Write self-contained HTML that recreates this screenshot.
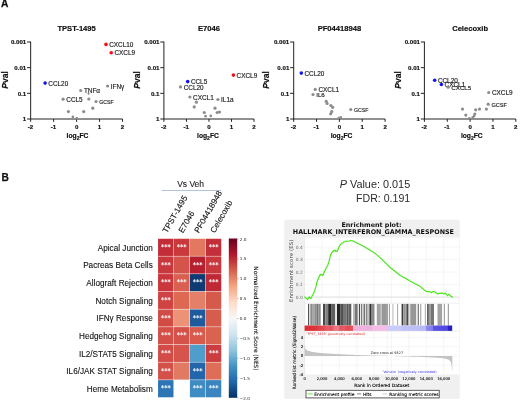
<!DOCTYPE html>
<html><head><meta charset="utf-8"><title>Figure</title>
<style>
html,body{margin:0;padding:0;background:#fff;}
body{width:520px;height:402px;overflow:hidden;}
svg{display:block;}
text{font-family:"Liberation Sans",sans-serif;}
.b{font-weight:bold;}
.s{stroke:#111;stroke-width:0.18px;}
.t{stroke:#000;stroke-width:0.1px;}
.dv{font-family:"DejaVu Sans","Liberation Sans",sans-serif;}
</style></head><body>
<svg width="520" height="402" viewBox="0 0 520 402">
<rect width="520" height="402" fill="#fff"/>
<text x="1" y="7" class="b" font-size="10.2" fill="#111" stroke="#111" stroke-width="0.25">A</text>
<text x="1.4" y="181.2" class="b" font-size="10.2" fill="#111" stroke="#111" stroke-width="0.25">B</text>
<path d="M30.65 41.60V119.00H122.53" fill="none" stroke="#222" stroke-width="1"/>
<path d="M27.05 42.00H30.65" stroke="#222" stroke-width="1"/>
<text x="26.25" y="44.25" text-anchor="end" class="b s" font-size="6.15" fill="#111">0.001</text>
<path d="M27.05 67.67H30.65" stroke="#222" stroke-width="1"/>
<text x="26.25" y="69.92" text-anchor="end" class="b s" font-size="6.15" fill="#111">0.01</text>
<path d="M27.05 93.33H30.65" stroke="#222" stroke-width="1"/>
<text x="26.25" y="95.58" text-anchor="end" class="b s" font-size="6.15" fill="#111">0.1</text>
<path d="M27.05 119.00H30.65" stroke="#222" stroke-width="1"/>
<text x="26.25" y="121.25" text-anchor="end" class="b s" font-size="6.15" fill="#111">1</text>
<path d="M30.65 119.00V121.80" stroke="#222" stroke-width="1"/>
<text x="30.45" y="129.20" text-anchor="middle" class="b s" font-size="6.15" fill="#111">-2</text>
<path d="M53.62 119.00V121.80" stroke="#222" stroke-width="1"/>
<text x="53.42" y="129.20" text-anchor="middle" class="b s" font-size="6.15" fill="#111">-1</text>
<path d="M76.59 119.00V121.80" stroke="#222" stroke-width="1"/>
<text x="76.59" y="129.20" text-anchor="middle" class="b s" font-size="6.15" fill="#111">0</text>
<path d="M99.56 119.00V121.80" stroke="#222" stroke-width="1"/>
<text x="99.56" y="129.20" text-anchor="middle" class="b s" font-size="6.15" fill="#111">1</text>
<path d="M122.53 119.00V121.80" stroke="#222" stroke-width="1"/>
<text x="122.53" y="129.20" text-anchor="middle" class="b s" font-size="6.15" fill="#111">2</text>
<text x="77.49" y="138.10" text-anchor="middle" class="b s" font-size="6.7" fill="#111">log<tspan font-size="5" dy="1.5">2</tspan><tspan dy="-1.5">FC</tspan></text>
<text transform="translate(7.65 79.90) rotate(-90)" text-anchor="middle" class="b s" font-size="8.5" fill="#111"><tspan font-style="italic">P</tspan>val</text>
<text x="76.59" y="31.2" text-anchor="middle" class="b s" font-size="7.6" fill="#111">TPST-1495</text>
<circle cx="106.0" cy="44.4" r="1.8" fill="#fa0a12"/>
<text x="109.2" y="47.0" font-size="6.4" fill="#222" stroke="#222" stroke-width="0.16">CXCL10</text>
<circle cx="111.2" cy="52.7" r="1.8" fill="#fa0a12"/>
<text x="114.4" y="55.3" font-size="6.4" fill="#222" stroke="#222" stroke-width="0.16">CXCL9</text>
<circle cx="45.1" cy="83.1" r="1.8" fill="#1414f0"/>
<text x="48.3" y="85.7" font-size="6.4" fill="#222" stroke="#222" stroke-width="0.16">CCL20</text>
<circle cx="107.6" cy="86.0" r="1.6" fill="#8c8c8c"/>
<text x="110.8" y="88.6" font-size="6.4" fill="#222" stroke="#222" stroke-width="0.16">IFNγ</text>
<circle cx="80.7" cy="90.5" r="1.6" fill="#8c8c8c"/>
<text x="83.9" y="93.1" font-size="6.4" fill="#222" stroke="#222" stroke-width="0.16">TNFα</text>
<circle cx="88.6" cy="93.7" r="1.1" fill="#8c8c8c"/>
<circle cx="63.1" cy="99.2" r="1.6" fill="#8c8c8c"/>
<text x="66.3" y="101.8" font-size="6.4" fill="#222" stroke="#222" stroke-width="0.16">CCL5</text>
<circle cx="88.8" cy="99.0" r="1.6" fill="#8c8c8c"/>
<circle cx="96.0" cy="101.5" r="1.6" fill="#8c8c8c"/>
<text x="99.2" y="103.7" font-size="5.2" fill="#222" stroke="#222" stroke-width="0.16">GCSF</text>
<circle cx="92.8" cy="108.2" r="1.6" fill="#8c8c8c"/>
<circle cx="68.4" cy="111.6" r="1.6" fill="#8c8c8c"/>
<circle cx="83.7" cy="111.6" r="1.6" fill="#8c8c8c"/>
<circle cx="72.9" cy="116.9" r="1.35" fill="#8c8c8c"/>
<circle cx="76.9" cy="118.3" r="1.35" fill="#8c8c8c"/>
<path d="M163.90 41.60V119.00H254.02" fill="none" stroke="#222" stroke-width="1"/>
<path d="M160.30 42.00H163.90" stroke="#222" stroke-width="1"/>
<text x="159.50" y="44.25" text-anchor="end" class="b s" font-size="6.15" fill="#111">0.001</text>
<path d="M160.30 67.67H163.90" stroke="#222" stroke-width="1"/>
<text x="159.50" y="69.92" text-anchor="end" class="b s" font-size="6.15" fill="#111">0.01</text>
<path d="M160.30 93.33H163.90" stroke="#222" stroke-width="1"/>
<text x="159.50" y="95.58" text-anchor="end" class="b s" font-size="6.15" fill="#111">0.1</text>
<path d="M160.30 119.00H163.90" stroke="#222" stroke-width="1"/>
<text x="159.50" y="121.25" text-anchor="end" class="b s" font-size="6.15" fill="#111">1</text>
<path d="M163.90 119.00V121.80" stroke="#222" stroke-width="1"/>
<text x="163.70" y="129.20" text-anchor="middle" class="b s" font-size="6.15" fill="#111">-2</text>
<path d="M186.43 119.00V121.80" stroke="#222" stroke-width="1"/>
<text x="186.23" y="129.20" text-anchor="middle" class="b s" font-size="6.15" fill="#111">-1</text>
<path d="M208.96 119.00V121.80" stroke="#222" stroke-width="1"/>
<text x="208.96" y="129.20" text-anchor="middle" class="b s" font-size="6.15" fill="#111">0</text>
<path d="M231.49 119.00V121.80" stroke="#222" stroke-width="1"/>
<text x="231.49" y="129.20" text-anchor="middle" class="b s" font-size="6.15" fill="#111">1</text>
<path d="M254.02 119.00V121.80" stroke="#222" stroke-width="1"/>
<text x="254.02" y="129.20" text-anchor="middle" class="b s" font-size="6.15" fill="#111">2</text>
<text x="207.96" y="138.10" text-anchor="middle" class="b s" font-size="6.7" fill="#111">log<tspan font-size="5" dy="1.5">2</tspan><tspan dy="-1.5">FC</tspan></text>
<text transform="translate(139.50 79.90) rotate(-90)" text-anchor="middle" class="b s" font-size="8.5" fill="#111"><tspan font-style="italic">P</tspan>val</text>
<text x="208.96" y="31.2" text-anchor="middle" class="b s" font-size="7.6" fill="#111">E7046</text>
<circle cx="233.4" cy="75.1" r="1.8" fill="#fa0a12"/>
<text x="236.6" y="77.7" font-size="6.4" fill="#222" stroke="#222" stroke-width="0.16">CXCL9</text>
<circle cx="187.7" cy="81.6" r="1.8" fill="#1414f0"/>
<text x="190.9" y="84.2" font-size="6.4" fill="#222" stroke="#222" stroke-width="0.16">CCL5</text>
<circle cx="180.5" cy="86.9" r="1.6" fill="#8c8c8c"/>
<text x="183.7" y="89.5" font-size="6.4" fill="#222" stroke="#222" stroke-width="0.16">CCL20</text>
<circle cx="189.9" cy="97.0" r="1.6" fill="#8c8c8c"/>
<text x="193.1" y="99.6" font-size="6.4" fill="#222" stroke="#222" stroke-width="0.16">CXCL1</text>
<circle cx="217.9" cy="99.5" r="1.6" fill="#8c8c8c"/>
<text x="221.1" y="102.1" font-size="6.4" fill="#222" stroke="#222" stroke-width="0.16">IL1a</text>
<circle cx="196.4" cy="102.2" r="1.6" fill="#8c8c8c"/>
<circle cx="194.2" cy="106.9" r="1.6" fill="#8c8c8c"/>
<circle cx="215.0" cy="108.2" r="1.6" fill="#8c8c8c"/>
<circle cx="204.3" cy="112.5" r="1.6" fill="#8c8c8c"/>
<circle cx="217.2" cy="112.5" r="1.6" fill="#8c8c8c"/>
<circle cx="219.5" cy="112.0" r="1.6" fill="#8c8c8c"/>
<circle cx="205.6" cy="116.2" r="1.35" fill="#8c8c8c"/>
<circle cx="210.8" cy="115.9" r="1.35" fill="#8c8c8c"/>
<path d="M293.70 41.60V119.00H385.10" fill="none" stroke="#222" stroke-width="1"/>
<path d="M290.10 42.00H293.70" stroke="#222" stroke-width="1"/>
<text x="289.30" y="44.25" text-anchor="end" class="b s" font-size="6.15" fill="#111">0.001</text>
<path d="M290.10 67.67H293.70" stroke="#222" stroke-width="1"/>
<text x="289.30" y="69.92" text-anchor="end" class="b s" font-size="6.15" fill="#111">0.01</text>
<path d="M290.10 93.33H293.70" stroke="#222" stroke-width="1"/>
<text x="289.30" y="95.58" text-anchor="end" class="b s" font-size="6.15" fill="#111">0.1</text>
<path d="M290.10 119.00H293.70" stroke="#222" stroke-width="1"/>
<text x="289.30" y="121.25" text-anchor="end" class="b s" font-size="6.15" fill="#111">1</text>
<path d="M293.70 119.00V121.80" stroke="#222" stroke-width="1"/>
<text x="293.50" y="129.20" text-anchor="middle" class="b s" font-size="6.15" fill="#111">-2</text>
<path d="M316.55 119.00V121.80" stroke="#222" stroke-width="1"/>
<text x="316.35" y="129.20" text-anchor="middle" class="b s" font-size="6.15" fill="#111">-1</text>
<path d="M339.40 119.00V121.80" stroke="#222" stroke-width="1"/>
<text x="339.40" y="129.20" text-anchor="middle" class="b s" font-size="6.15" fill="#111">0</text>
<path d="M362.25 119.00V121.80" stroke="#222" stroke-width="1"/>
<text x="362.25" y="129.20" text-anchor="middle" class="b s" font-size="6.15" fill="#111">1</text>
<path d="M385.10 119.00V121.80" stroke="#222" stroke-width="1"/>
<text x="385.10" y="129.20" text-anchor="middle" class="b s" font-size="6.15" fill="#111">2</text>
<text x="341.50" y="138.10" text-anchor="middle" class="b s" font-size="6.7" fill="#111">log<tspan font-size="5" dy="1.5">2</tspan><tspan dy="-1.5">FC</tspan></text>
<text transform="translate(269.10 79.90) rotate(-90)" text-anchor="middle" class="b s" font-size="8.5" fill="#111"><tspan font-style="italic">P</tspan>val</text>
<text x="339.40" y="31.2" text-anchor="middle" class="b s" font-size="7.6" fill="#111">PF04418948</text>
<circle cx="301.3" cy="73.1" r="1.8" fill="#1414f0"/>
<text x="304.5" y="75.7" font-size="6.4" fill="#222" stroke="#222" stroke-width="0.16">CCL20</text>
<circle cx="315.2" cy="89.4" r="1.6" fill="#8c8c8c"/>
<text x="318.4" y="92.0" font-size="6.4" fill="#222" stroke="#222" stroke-width="0.16">CXCL1</text>
<circle cx="313.0" cy="94.5" r="1.6" fill="#8c8c8c"/>
<text x="316.2" y="97.0" font-size="6.2" fill="#222" stroke="#222" stroke-width="0.16">IL6</text>
<circle cx="326.2" cy="101.3" r="1.6" fill="#8c8c8c"/>
<circle cx="327.1" cy="103.5" r="1.6" fill="#8c8c8c"/>
<circle cx="330.9" cy="105.5" r="1.6" fill="#8c8c8c"/>
<circle cx="332.7" cy="107.3" r="1.6" fill="#8c8c8c"/>
<circle cx="331.8" cy="111.6" r="1.6" fill="#8c8c8c"/>
<circle cx="330.7" cy="113.8" r="1.6" fill="#8c8c8c"/>
<circle cx="350.8" cy="109.5" r="1.6" fill="#8c8c8c"/>
<text x="354.0" y="111.7" font-size="5.2" fill="#222" stroke="#222" stroke-width="0.16">GCSF</text>
<circle cx="338.7" cy="118.1" r="1.35" fill="#8c8c8c"/>
<circle cx="340.7" cy="117.4" r="1.35" fill="#8c8c8c"/>
<path d="M424.40 41.60V119.00H515.80" fill="none" stroke="#222" stroke-width="1"/>
<path d="M420.80 42.00H424.40" stroke="#222" stroke-width="1"/>
<text x="420.00" y="44.25" text-anchor="end" class="b s" font-size="6.15" fill="#111">0.001</text>
<path d="M420.80 67.67H424.40" stroke="#222" stroke-width="1"/>
<text x="420.00" y="69.92" text-anchor="end" class="b s" font-size="6.15" fill="#111">0.01</text>
<path d="M420.80 93.33H424.40" stroke="#222" stroke-width="1"/>
<text x="420.00" y="95.58" text-anchor="end" class="b s" font-size="6.15" fill="#111">0.1</text>
<path d="M420.80 119.00H424.40" stroke="#222" stroke-width="1"/>
<text x="420.00" y="121.25" text-anchor="end" class="b s" font-size="6.15" fill="#111">1</text>
<path d="M424.40 119.00V121.80" stroke="#222" stroke-width="1"/>
<text x="424.20" y="129.20" text-anchor="middle" class="b s" font-size="6.15" fill="#111">-2</text>
<path d="M447.25 119.00V121.80" stroke="#222" stroke-width="1"/>
<text x="447.05" y="129.20" text-anchor="middle" class="b s" font-size="6.15" fill="#111">-1</text>
<path d="M470.10 119.00V121.80" stroke="#222" stroke-width="1"/>
<text x="470.10" y="129.20" text-anchor="middle" class="b s" font-size="6.15" fill="#111">0</text>
<path d="M492.95 119.00V121.80" stroke="#222" stroke-width="1"/>
<text x="492.95" y="129.20" text-anchor="middle" class="b s" font-size="6.15" fill="#111">1</text>
<path d="M515.80 119.00V121.80" stroke="#222" stroke-width="1"/>
<text x="515.80" y="129.20" text-anchor="middle" class="b s" font-size="6.15" fill="#111">2</text>
<text x="471.80" y="138.10" text-anchor="middle" class="b s" font-size="6.7" fill="#111">log<tspan font-size="5" dy="1.5">2</tspan><tspan dy="-1.5">FC</tspan></text>
<text transform="translate(400.70 79.90) rotate(-90)" text-anchor="middle" class="b s" font-size="8.5" fill="#111"><tspan font-style="italic">P</tspan>val</text>
<text x="470.10" y="31.2" text-anchor="middle" class="b s" font-size="7.6" fill="#111">Celecoxib</text>
<circle cx="434.7" cy="80.2" r="1.8" fill="#1414f0"/>
<text x="437.9" y="82.8" font-size="6.4" fill="#222" stroke="#222" stroke-width="0.16">CCL20</text>
<circle cx="441.4" cy="84.5" r="1.8" fill="#1414f0"/>
<text x="444.6" y="87.1" font-size="6.4" fill="#222" stroke="#222" stroke-width="0.16">CXCL1</text>
<circle cx="448.1" cy="87.2" r="1.6" fill="#8c8c8c"/>
<text x="451.3" y="89.7" font-size="6.2" fill="#222" stroke="#222" stroke-width="0.16">CXCL5</text>
<circle cx="488.7" cy="92.5" r="1.6" fill="#8c8c8c"/>
<text x="491.9" y="95.1" font-size="6.4" fill="#222" stroke="#222" stroke-width="0.16">CXCL9</text>
<circle cx="488.2" cy="104.2" r="1.6" fill="#8c8c8c"/>
<text x="491.4" y="106.5" font-size="5.6" fill="#222" stroke="#222" stroke-width="0.16">GCSF</text>
<circle cx="462.5" cy="109.1" r="1.6" fill="#8c8c8c"/>
<circle cx="475.7" cy="109.8" r="1.6" fill="#8c8c8c"/>
<circle cx="479.5" cy="109.1" r="1.6" fill="#8c8c8c"/>
<circle cx="486.4" cy="109.1" r="1.6" fill="#8c8c8c"/>
<circle cx="465.8" cy="115.1" r="1.6" fill="#8c8c8c"/>
<circle cx="474.8" cy="114.0" r="1.6" fill="#8c8c8c"/>
<circle cx="474.1" cy="116.0" r="1.35" fill="#8c8c8c"/>
<circle cx="472.8" cy="117.4" r="1.35" fill="#8c8c8c"/>
<circle cx="469.4" cy="118.3" r="1.35" fill="#8c8c8c"/>
<rect x="158.05" y="238.75" width="15.43" height="17.17" fill="#c22d38"/><text x="165.77" y="249.03" text-anchor="middle" font-size="6.5" fill="#fff" stroke="#fff" stroke-width="0.15" class="dv">***</text><rect x="173.98" y="238.75" width="15.43" height="17.17" fill="#c9383a"/><text x="181.70" y="249.03" text-anchor="middle" font-size="6.5" fill="#fff" stroke="#fff" stroke-width="0.15" class="dv">***</text><rect x="189.91" y="238.75" width="15.43" height="17.17" fill="#e27860"/><rect x="205.84" y="238.75" width="15.43" height="17.17" fill="#c22f38"/><text x="213.56" y="249.03" text-anchor="middle" font-size="6.5" fill="#fff" stroke="#fff" stroke-width="0.15" class="dv">***</text><text x="152.8" y="250.53" text-anchor="end" font-size="8.2" fill="#111" stroke="#111" stroke-width="0.1">Apical Junction</text>
<rect x="158.05" y="256.42" width="15.43" height="17.17" fill="#c9383c"/><text x="165.77" y="266.70" text-anchor="middle" font-size="6.5" fill="#fff" stroke="#fff" stroke-width="0.15" class="dv">***</text><rect x="173.98" y="256.42" width="15.43" height="17.17" fill="#d4534a"/><rect x="189.91" y="256.42" width="15.43" height="17.17" fill="#b51f30"/><text x="197.63" y="266.70" text-anchor="middle" font-size="6.5" fill="#fff" stroke="#fff" stroke-width="0.15" class="dv">***</text><rect x="205.84" y="256.42" width="15.43" height="17.17" fill="#c8383c"/><text x="213.56" y="266.70" text-anchor="middle" font-size="6.5" fill="#fff" stroke="#fff" stroke-width="0.15" class="dv">***</text><text x="152.8" y="268.20" text-anchor="end" font-size="8.2" fill="#111" stroke="#111" stroke-width="0.1">Pacreas Beta Cells</text>
<rect x="158.05" y="274.09" width="15.43" height="17.17" fill="#c9363b"/><text x="165.77" y="284.38" text-anchor="middle" font-size="6.5" fill="#fff" stroke="#fff" stroke-width="0.15" class="dv">***</text><rect x="173.98" y="274.09" width="15.43" height="17.17" fill="#d95f50"/><text x="181.70" y="284.38" text-anchor="middle" font-size="6.5" fill="#fff" stroke="#fff" stroke-width="0.15" class="dv">***</text><rect x="189.91" y="274.09" width="15.43" height="17.17" fill="#0f3a72"/><text x="197.63" y="284.38" text-anchor="middle" font-size="6.5" fill="#fff" stroke="#fff" stroke-width="0.15" class="dv">***</text><rect x="205.84" y="274.09" width="15.43" height="17.17" fill="#bf2936"/><text x="213.56" y="284.38" text-anchor="middle" font-size="6.5" fill="#fff" stroke="#fff" stroke-width="0.15" class="dv">***</text><text x="152.8" y="285.88" text-anchor="end" font-size="8.2" fill="#111" stroke="#111" stroke-width="0.1">Allograft Rejection</text>
<rect x="158.05" y="291.76" width="15.43" height="17.17" fill="#cf4442"/><text x="165.77" y="302.04" text-anchor="middle" font-size="6.5" fill="#fff" stroke="#fff" stroke-width="0.15" class="dv">***</text><rect x="173.98" y="291.76" width="15.43" height="17.17" fill="#de6953"/><rect x="189.91" y="291.76" width="15.43" height="17.17" fill="#e4806a"/><rect x="205.84" y="291.76" width="15.43" height="17.17" fill="#d55a4c"/><text x="152.8" y="303.54" text-anchor="end" font-size="8.2" fill="#111" stroke="#111" stroke-width="0.1">Notch Signaling</text>
<rect x="158.05" y="309.43" width="15.43" height="17.17" fill="#d24c46"/><text x="165.77" y="319.71" text-anchor="middle" font-size="6.5" fill="#fff" stroke="#fff" stroke-width="0.15" class="dv">***</text><rect x="173.98" y="309.43" width="15.43" height="17.17" fill="#ec9377"/><rect x="189.91" y="309.43" width="15.43" height="17.17" fill="#1f5a9c"/><text x="197.63" y="319.71" text-anchor="middle" font-size="6.5" fill="#fff" stroke="#fff" stroke-width="0.15" class="dv">***</text><rect x="205.84" y="309.43" width="15.43" height="17.17" fill="#d65c4d"/><text x="152.8" y="321.21" text-anchor="end" font-size="8.2" fill="#111" stroke="#111" stroke-width="0.1">IFNγ Response</text>
<rect x="158.05" y="327.10" width="15.43" height="17.17" fill="#d34f47"/><text x="165.77" y="337.38" text-anchor="middle" font-size="6.5" fill="#fff" stroke="#fff" stroke-width="0.15" class="dv">***</text><rect x="173.98" y="327.10" width="15.43" height="17.17" fill="#d4524a"/><text x="181.70" y="337.38" text-anchor="middle" font-size="6.5" fill="#fff" stroke="#fff" stroke-width="0.15" class="dv">***</text><rect x="189.91" y="327.10" width="15.43" height="17.17" fill="#d85a4d"/><text x="197.63" y="337.38" text-anchor="middle" font-size="6.5" fill="#fff" stroke="#fff" stroke-width="0.15" class="dv">***</text><rect x="205.84" y="327.10" width="15.43" height="17.17" fill="#d9634f"/><text x="152.8" y="338.88" text-anchor="end" font-size="8.2" fill="#111" stroke="#111" stroke-width="0.1">Hedgehog Signaling</text>
<rect x="158.05" y="344.77" width="15.43" height="17.17" fill="#d24b46"/><text x="165.77" y="355.05" text-anchor="middle" font-size="6.5" fill="#fff" stroke="#fff" stroke-width="0.15" class="dv">***</text><rect x="173.98" y="344.77" width="15.43" height="17.17" fill="#d5544b"/><rect x="189.91" y="344.77" width="15.43" height="17.17" fill="#4f9dcb"/><rect x="205.84" y="344.77" width="15.43" height="17.17" fill="#cb3d3f"/><text x="213.56" y="355.05" text-anchor="middle" font-size="6.5" fill="#fff" stroke="#fff" stroke-width="0.15" class="dv">***</text><text x="152.8" y="356.55" text-anchor="end" font-size="8.2" fill="#111" stroke="#111" stroke-width="0.1">IL2/STAT5 Signaling</text>
<rect x="158.05" y="362.44" width="15.43" height="17.17" fill="#d4514a"/><text x="165.77" y="372.72" text-anchor="middle" font-size="6.5" fill="#fff" stroke="#fff" stroke-width="0.15" class="dv">***</text><rect x="173.98" y="362.44" width="15.43" height="17.17" fill="#e07a62"/><rect x="189.91" y="362.44" width="15.43" height="17.17" fill="#2365ab"/><text x="197.63" y="372.72" text-anchor="middle" font-size="6.5" fill="#fff" stroke="#fff" stroke-width="0.15" class="dv">***</text><rect x="205.84" y="362.44" width="15.43" height="17.17" fill="#de6e57"/><text x="152.8" y="374.22" text-anchor="end" font-size="8.2" fill="#111" stroke="#111" stroke-width="0.1">IL6/JAK STAT Signaling</text>
<rect x="158.05" y="380.11" width="15.43" height="17.17" fill="#2e75b6"/><text x="165.77" y="390.39" text-anchor="middle" font-size="6.5" fill="#fff" stroke="#fff" stroke-width="0.15" class="dv">***</text><rect x="189.91" y="380.11" width="15.43" height="17.17" fill="#3f8cc3"/><text x="197.63" y="390.39" text-anchor="middle" font-size="6.5" fill="#fff" stroke="#fff" stroke-width="0.15" class="dv">***</text><rect x="205.84" y="380.11" width="15.43" height="17.17" fill="#3a85bf"/><text x="213.56" y="390.39" text-anchor="middle" font-size="6.5" fill="#fff" stroke="#fff" stroke-width="0.15" class="dv">***</text><text x="152.8" y="391.89" text-anchor="end" font-size="8.2" fill="#111" stroke="#111" stroke-width="0.1">Heme Metabolism</text>
<text transform="translate(166.97 233.5) rotate(-60)" font-size="8.2" fill="#111" stroke="#111" stroke-width="0.12">TPST-1495</text>
<text transform="translate(182.90 233.5) rotate(-60)" font-size="8.2" fill="#111" stroke="#111" stroke-width="0.12">E7046</text>
<text transform="translate(198.83 233.5) rotate(-60)" font-size="8.2" fill="#111" stroke="#111" stroke-width="0.12">PF04418948</text>
<text transform="translate(214.75 233.5) rotate(-60)" font-size="8.2" fill="#111" stroke="#111" stroke-width="0.12">Celecoxib</text>
<text x="190.6" y="187.3" text-anchor="middle" font-size="8.5" fill="#222" stroke="#222" stroke-width="0.1">Vs Veh</text>
<path d="M161.7 190.5H221.1" stroke="#8fa9cf" stroke-width="0.7"/>
<defs><linearGradient id="cb" x1="0" y1="1" x2="0" y2="0"><stop offset="0.0" stop-color="#053061"/><stop offset="0.1" stop-color="#2166ac"/><stop offset="0.2" stop-color="#4393c3"/><stop offset="0.3" stop-color="#92c5de"/><stop offset="0.4" stop-color="#d1e5f0"/><stop offset="0.5" stop-color="#f7f7f7"/><stop offset="0.6" stop-color="#fddbc7"/><stop offset="0.7" stop-color="#f4a582"/><stop offset="0.8" stop-color="#d6604d"/><stop offset="0.9" stop-color="#b2182b"/><stop offset="1.0" stop-color="#67001f"/></linearGradient></defs>
<rect x="228.8" y="238.5" width="8.4" height="159.3" fill="url(#cb)"/>
<path d="M237.2 239.00H238.6" stroke="#444" stroke-width="0.4"/><text x="239.8" y="240.60" font-size="4.2" fill="#222" class="dv">2.0</text>
<path d="M237.2 258.87H238.6" stroke="#444" stroke-width="0.4"/><text x="239.8" y="260.47" font-size="4.2" fill="#222" class="dv">1.5</text>
<path d="M237.2 278.74H238.6" stroke="#444" stroke-width="0.4"/><text x="239.8" y="280.34" font-size="4.2" fill="#222" class="dv">1.0</text>
<path d="M237.2 298.61H238.6" stroke="#444" stroke-width="0.4"/><text x="239.8" y="300.21" font-size="4.2" fill="#222" class="dv">0.5</text>
<path d="M237.2 318.48H238.6" stroke="#444" stroke-width="0.4"/><text x="239.8" y="320.08" font-size="4.2" fill="#222" class="dv">0.0</text>
<path d="M237.2 338.35H238.6" stroke="#444" stroke-width="0.4"/><text x="239.8" y="339.95" font-size="4.2" fill="#222" class="dv">−0.5</text>
<path d="M237.2 358.22H238.6" stroke="#444" stroke-width="0.4"/><text x="239.8" y="359.82" font-size="4.2" fill="#222" class="dv">−1.0</text>
<path d="M237.2 378.09H238.6" stroke="#444" stroke-width="0.4"/><text x="239.8" y="379.69" font-size="4.2" fill="#222" class="dv">−1.5</text>
<path d="M237.2 397.96H238.6" stroke="#444" stroke-width="0.4"/><text x="239.8" y="399.56" font-size="4.2" fill="#222" class="dv">−2.0</text>
<text transform="translate(254.3 318.4) rotate(90)" text-anchor="middle" font-size="5.8" fill="#111" class="dv t">Normalized Enrichment Score (NES)</text>
<text x="410.2" y="187.6" text-anchor="end" font-size="10.4" fill="#2b2b2b" textLength="70.5" lengthAdjust="spacingAndGlyphs"><tspan font-style="italic">P</tspan> Value: 0.015</text>
<text x="410.2" y="202.4" text-anchor="end" font-size="10.4" fill="#2b2b2b" textLength="54.2" lengthAdjust="spacingAndGlyphs">FDR: 0.191</text>
<rect x="284.3" y="219.7" width="175.4" height="179.1" fill="#f0f0f0"/>
<text x="371.5" y="226.6" text-anchor="middle" font-size="6.4" class="dv b" fill="#111">Enrichment plot:</text>
<text x="373.4" y="233.9" text-anchor="middle" font-size="6.4" class="dv b" fill="#111">HALLMARK_INTERFERON_GAMMA_RESPONSE</text>
<rect x="304.6" y="237.6" width="154.7" height="137.4" fill="#fff"/>
<text x="302.7" y="298.70" text-anchor="end" font-size="4.4" fill="#6a6a6a" class="dv">0.0</text><text x="302.7" y="286.16" text-anchor="end" font-size="4.4" fill="#6a6a6a" class="dv">0.1</text><text x="302.7" y="273.62" text-anchor="end" font-size="4.4" fill="#6a6a6a" class="dv">0.2</text><text x="302.7" y="261.08" text-anchor="end" font-size="4.4" fill="#6a6a6a" class="dv">0.3</text><text x="302.7" y="248.54" text-anchor="end" font-size="4.4" fill="#6a6a6a" class="dv">0.4</text><text x="303.3" y="338.70" text-anchor="end" font-size="3.9" fill="#000" class="dv t">4</text><text x="303.3" y="348.00" text-anchor="end" font-size="3.9" fill="#000" class="dv t">2</text><text x="303.3" y="357.30" text-anchor="end" font-size="3.9" fill="#000" class="dv t">0</text><text x="303.3" y="366.60" text-anchor="end" font-size="3.9" fill="#000" class="dv t">-2</text><text x="303.3" y="375.90" text-anchor="end" font-size="3.9" fill="#000" class="dv t">-4</text><path d="M321.98 237.6V303M321.98 331V375M339.36 237.6V303M339.36 331V375M356.74 237.6V303M356.74 331V375M374.12 237.6V303M374.12 331V375M391.50 237.6V303M391.50 331V375M408.88 237.6V303M408.88 331V375M426.26 237.6V303M426.26 331V375M443.64 237.6V303M443.64 331V375M304.6 297.10H459.3M304.6 284.56H459.3M304.6 272.02H459.3M304.6 259.48H459.3M304.6 246.94H459.3M304.6 337.30H459.3M304.6 346.60H459.3M304.6 355.90H459.3M304.6 365.20H459.3M304.6 374.50H459.3" stroke="#e8e8e8" stroke-width="0.4" fill="none"/>
<path d="M304.6 297.1H459.3" stroke="#d2d2d2" stroke-width="0.6" fill="none"/>
<path d="M304.6 303.2H459.3M304.6 331.1H459.3M304.6 237.6V375" stroke="#dcdcdc" stroke-width="0.5" fill="none"/>
<path d="M304.74 296.92 L306.09 298.27 L307.61 299.62 L308.46 297.93 L309.30 296.92 L310.15 297.93 L310.99 298.61 L311.84 296.58 L312.68 294.89 L313.53 293.53 L314.38 291.51 L315.22 289.14 L316.07 286.43 L316.91 282.20 L317.76 280.00 L318.60 277.97 L319.45 275.95 L320.30 274.25 L320.97 275.10 L321.65 274.25 L322.83 275.44 L323.68 273.41 L324.52 271.55 L325.37 269.86 L326.22 267.83 L327.06 266.47 L327.91 264.78 L328.58 262.75 L329.09 261.06 L329.77 258.02 L330.44 255.14 L331.29 253.45 L332.14 252.27 L333.15 251.25 L334.33 250.07 L335.01 251.08 L335.86 250.91 L336.70 251.42 L337.55 250.91 L338.05 249.22 L338.56 247.87 L339.24 246.35 L339.75 245.50 L340.93 244.15 L342.28 242.79 L343.30 242.46 L344.31 241.78 L345.67 241.61 L346.68 241.10 L347.86 241.27 L349.05 241.10 L350.06 240.77 L350.74 240.43 L351.92 240.93 L353.28 241.10 L355.48 242.29 L357.51 243.30 L360.04 244.49 L362.58 245.84 L365.12 247.36 L367.65 248.88 L370.19 250.24 L372.73 251.76 L375.26 253.62 L377.80 255.65 L380.00 257.68 L385.07 262.41 L390.15 267.49 L395.22 271.55 L400.30 275.44 L405.37 278.31 L410.44 281.36 L415.52 283.89 L419.75 286.09 L423.13 288.97 L425.33 290.83 L426.51 291.51 L428.20 291.67 L429.89 291.84 L431.59 292.69 L432.77 291.67 L433.78 291.17 L434.80 292.18 L435.81 292.86 L437.84 294.04 L439.20 293.37 L440.04 293.20 L441.23 293.37 L442.24 292.86 L443.09 293.53 L443.93 294.04 L444.78 293.37 L445.62 293.20 L446.64 294.55 L447.65 295.73 L448.33 294.55 L448.84 294.04 L449.68 295.23 L450.70 296.07 L452.39 297.09" fill="none" stroke="#46e616" stroke-width="1.15" stroke-linejoin="round" stroke-linecap="round"/>
<rect x="308.00" y="303.9" width="1.20" height="21.6" fill="rgb(82,82,82)"/><rect x="309.20" y="303.9" width="1.10" height="21.6" fill="rgb(220,220,220)"/><rect x="310.30" y="303.9" width="2.40" height="21.6" fill="rgb(140,140,140)"/><rect x="312.70" y="303.9" width="1.70" height="21.6" fill="rgb(163,163,163)"/><rect x="314.40" y="303.9" width="2.30" height="21.6" fill="rgb(140,140,140)"/><rect x="316.70" y="303.9" width="1.70" height="21.6" fill="rgb(117,117,117)"/><rect x="318.40" y="303.9" width="2.30" height="21.6" fill="rgb(140,140,140)"/><rect x="323.00" y="303.9" width="2.30" height="21.6" fill="rgb(71,71,71)"/><rect x="325.30" y="303.9" width="2.90" height="21.6" fill="rgb(128,128,128)"/><rect x="328.20" y="303.9" width="2.90" height="21.6" fill="rgb(36,36,36)"/><rect x="331.10" y="303.9" width="4.10" height="21.6" fill="rgb(94,94,94)"/><rect x="336.90" y="303.9" width="3.40" height="21.6" fill="rgb(36,36,36)"/><rect x="340.30" y="303.9" width="3.50" height="21.6" fill="rgb(82,82,82)"/><rect x="343.80" y="303.9" width="2.90" height="21.6" fill="rgb(117,117,117)"/><rect x="346.70" y="303.9" width="1.70" height="21.6" fill="rgb(82,82,82)"/><rect x="348.40" y="303.9" width="2.90" height="21.6" fill="rgb(94,94,94)"/><rect x="353.00" y="303.9" width="1.80" height="21.6" fill="rgb(186,186,186)"/><rect x="354.80" y="303.9" width="2.90" height="21.6" fill="rgb(117,117,117)"/><rect x="358.90" y="303.9" width="1.10" height="21.6" fill="rgb(71,71,71)"/><rect x="360.00" y="303.9" width="1.20" height="21.6" fill="rgb(236,236,236)"/><rect x="361.20" y="303.9" width="1.20" height="21.6" fill="rgb(94,94,94)"/><rect x="362.40" y="303.9" width="1.10" height="21.6" fill="rgb(232,232,232)"/><rect x="363.50" y="303.9" width="1.70" height="21.6" fill="rgb(117,117,117)"/><rect x="365.20" y="303.9" width="1.20" height="21.6" fill="rgb(220,220,220)"/><rect x="366.40" y="303.9" width="1.10" height="21.6" fill="rgb(71,71,71)"/><rect x="367.50" y="303.9" width="1.20" height="21.6" fill="rgb(209,209,209)"/><rect x="368.70" y="303.9" width="1.10" height="21.6" fill="rgb(128,128,128)"/><rect x="369.80" y="303.9" width="1.80" height="21.6" fill="rgb(48,48,48)"/><rect x="371.60" y="303.9" width="2.90" height="21.6" fill="rgb(140,140,140)"/><rect x="376.80" y="303.9" width="4.00" height="21.6" fill="rgb(163,163,163)"/><rect x="380.80" y="303.9" width="1.20" height="21.6" fill="rgb(197,197,197)"/><rect x="382.00" y="303.9" width="4.60" height="21.6" fill="rgb(151,151,151)"/><rect x="386.60" y="303.9" width="1.10" height="21.6" fill="rgb(117,117,117)"/><rect x="388.90" y="303.9" width="1.10" height="21.6" fill="rgb(163,163,163)"/><rect x="392.30" y="303.9" width="1.20" height="21.6" fill="rgb(197,197,197)"/><rect x="397.00" y="303.9" width="1.10" height="21.6" fill="rgb(174,174,174)"/><rect x="401.60" y="303.9" width="1.70" height="21.6" fill="rgb(59,59,59)"/><rect x="403.30" y="303.9" width="2.30" height="21.6" fill="rgb(151,151,151)"/><rect x="405.60" y="303.9" width="1.30" height="21.6" fill="rgb(128,128,128)"/><rect x="406.90" y="303.9" width="1.70" height="21.6" fill="rgb(71,71,71)"/><rect x="408.60" y="303.9" width="1.70" height="21.6" fill="rgb(220,220,220)"/><rect x="410.30" y="303.9" width="5.80" height="21.6" fill="rgb(151,151,151)"/><rect x="416.10" y="303.9" width="1.70" height="21.6" fill="rgb(232,232,232)"/><rect x="417.80" y="303.9" width="1.20" height="21.6" fill="rgb(128,128,128)"/><rect x="420.20" y="303.9" width="1.10" height="21.6" fill="rgb(163,163,163)"/><rect x="424.80" y="303.9" width="1.10" height="21.6" fill="rgb(174,174,174)"/><rect x="427.10" y="303.9" width="1.70" height="21.6" fill="rgb(82,82,82)"/><rect x="428.80" y="303.9" width="1.70" height="21.6" fill="rgb(151,151,151)"/><rect x="430.50" y="303.9" width="3.50" height="21.6" fill="rgb(117,117,117)"/><rect x="437.50" y="303.9" width="4.60" height="21.6" fill="rgb(163,163,163)"/><rect x="443.80" y="303.9" width="1.20" height="21.6" fill="rgb(163,163,163)"/><rect x="447.80" y="303.9" width="1.00" height="21.6" fill="rgb(140,140,140)"/>
<defs><linearGradient id="rk" gradientUnits="userSpaceOnUse" x1="304.6" y1="0" x2="452.2" y2="0"><stop offset="0.0000" stop-color="#db2c33"/><stop offset="0.0705" stop-color="#dd333a"/><stop offset="0.1043" stop-color="#e0434a"/><stop offset="0.1314" stop-color="#e24c54"/><stop offset="0.1585" stop-color="#e65e66"/><stop offset="0.1789" stop-color="#e35058"/><stop offset="0.2060" stop-color="#ea7782"/><stop offset="0.2297" stop-color="#ea7782"/><stop offset="0.2398" stop-color="#e3525a"/><stop offset="0.2669" stop-color="#e65c66"/><stop offset="0.2873" stop-color="#e14a52"/><stop offset="0.3252" stop-color="#e4545e"/><stop offset="0.3293" stop-color="#efb0dc"/><stop offset="0.4566" stop-color="#f0b2de"/><stop offset="0.4634" stop-color="#f4bee8"/><stop offset="0.5569" stop-color="#f4bee8"/><stop offset="0.5596" stop-color="#cdcdfb"/><stop offset="0.6531" stop-color="#cacafa"/><stop offset="0.6599" stop-color="#c2c2f8"/><stop offset="0.7683" stop-color="#bdbdf7"/><stop offset="0.8218" stop-color="#b9b7f5"/><stop offset="0.8252" stop-color="#8b89ef"/><stop offset="0.8699" stop-color="#7f7cec"/><stop offset="0.8726" stop-color="#5d53e3"/><stop offset="0.9682" stop-color="#5046de"/><stop offset="0.9709" stop-color="#2c20c8"/><stop offset="1.0000" stop-color="#2a1ec6"/></linearGradient></defs><rect x="304.6" y="325.5" width="147.6" height="5.4" fill="url(#rk)"/>
<path d="M304.60 355.90 L304.60 343.81 L304.95 347.06 L305.47 348.63 L305.64 349.16 L306.34 349.65 L307.21 350.26 L308.08 350.88 L308.95 351.11 L309.81 351.34 L310.68 351.58 L311.55 351.81 L312.42 351.94 L313.29 352.07 L314.16 352.21 L315.03 352.34 L315.90 352.47 L316.42 352.55 L316.77 352.58 L317.64 352.66 L318.50 352.74 L319.37 352.82 L320.24 352.89 L321.11 352.97 L321.98 353.05 L322.85 353.13 L323.72 353.20 L324.59 353.26 L325.46 353.32 L326.33 353.38 L327.19 353.43 L328.06 353.49 L328.93 353.55 L329.80 353.61 L330.67 353.66 L331.54 353.72 L332.41 353.78 L332.84 353.81 L333.28 353.83 L334.15 353.88 L335.02 353.93 L335.88 353.98 L336.75 354.03 L337.62 354.08 L338.49 354.13 L339.36 354.17 L340.23 354.22 L341.10 354.27 L341.97 354.31 L342.84 354.35 L343.71 354.39 L344.57 354.43 L345.44 354.47 L346.31 354.51 L347.18 354.55 L348.05 354.59 L348.92 354.63 L349.27 354.64 L349.79 354.67 L350.66 354.71 L351.53 354.74 L352.40 354.78 L353.26 354.82 L354.13 354.86 L355.00 354.89 L355.87 354.93 L356.74 354.97 L357.61 355.00 L358.48 355.04 L359.35 355.07 L360.22 355.10 L361.09 355.13 L361.95 355.17 L362.82 355.20 L363.69 355.23 L364.56 355.26 L365.43 355.30 L366.30 355.32 L367.17 355.35 L368.04 355.38 L368.91 355.40 L369.78 355.43 L370.64 355.46 L371.51 355.49 L372.38 355.51 L373.25 355.54 L374.12 355.57 L374.99 355.59 L375.86 355.62 L376.73 355.64 L377.60 355.66 L378.47 355.68 L379.33 355.71 L380.20 355.73 L381.07 355.75 L381.94 355.77 L382.81 355.79 L383.68 355.81 L384.55 355.83 L385.42 355.85 L386.29 355.87 L387.16 355.89 L387.39 355.90 L388.02 355.92 L388.89 355.94 L389.76 355.97 L390.63 355.99 L391.50 356.02 L392.37 356.04 L393.24 356.07 L394.11 356.10 L394.98 356.12 L395.85 356.15 L396.71 356.17 L397.58 356.20 L398.45 356.22 L399.32 356.25 L400.19 356.27 L401.06 356.30 L401.93 356.32 L402.80 356.35 L403.67 356.38 L404.54 356.40 L405.40 356.43 L406.27 356.46 L407.14 356.48 L407.84 356.50 L408.01 356.51 L408.88 356.54 L409.75 356.57 L410.62 356.60 L411.49 356.63 L412.36 356.66 L413.23 356.68 L414.09 356.71 L414.96 356.74 L415.83 356.77 L416.70 356.80 L417.57 356.83 L418.44 356.87 L419.31 356.90 L420.18 356.94 L421.05 356.97 L421.92 357.01 L422.78 357.05 L423.65 357.08 L424.26 357.11 L424.52 357.12 L425.39 357.16 L426.26 357.20 L427.13 357.24 L428.00 357.28 L428.87 357.32 L429.74 357.36 L430.61 357.41 L431.47 357.45 L432.34 357.49 L433.21 357.53 L434.08 357.59 L434.95 357.65 L435.82 357.71 L436.69 357.77 L437.56 357.82 L438.43 357.88 L439.30 357.94 L440.16 358.00 L440.69 358.04 L441.03 358.08 L441.90 358.19 L442.77 358.29 L443.64 358.40 L444.51 358.50 L445.38 358.71 L446.25 358.92 L447.12 359.13 L447.20 359.15 L447.99 359.49 L448.85 359.85 L449.72 360.63 L450.16 361.01 L450.59 361.94 L451.03 362.88 L451.46 364.91 L451.72 366.13 L452.33 372.17 L452.33 355.90Z" fill="#c4c4c4"/>
<text x="306.3" y="334.9" font-size="3.38" fill="#e0262b" class="dv">'TPST_1495' (positively correlated)</text>
<text x="382.5" y="373.2" font-size="3.41" fill="#3a35d6" class="dv">'Vehicle' (negatively correlated)</text>
<text x="370.8" y="353.8" font-size="3.44" fill="#222" class="dv">Zero cross at 9527</text>
<path d="M387.39 331V375" stroke="#cfcfcf" stroke-width="0.4" stroke-dasharray="0.8 0.8"/>
<text x="304.60" y="380.1" text-anchor="middle" font-size="3.72" fill="#000" class="dv t">0</text><text x="321.98" y="380.1" text-anchor="middle" font-size="3.72" fill="#000" class="dv t">2,000</text><text x="339.36" y="380.1" text-anchor="middle" font-size="3.72" fill="#000" class="dv t">4,000</text><text x="356.74" y="380.1" text-anchor="middle" font-size="3.72" fill="#000" class="dv t">6,000</text><text x="374.12" y="380.1" text-anchor="middle" font-size="3.72" fill="#000" class="dv t">8,000</text><text x="391.50" y="380.1" text-anchor="middle" font-size="3.72" fill="#000" class="dv t">10,000</text><text x="408.88" y="380.1" text-anchor="middle" font-size="3.72" fill="#000" class="dv t">12,000</text><text x="426.26" y="380.1" text-anchor="middle" font-size="3.72" fill="#000" class="dv t">14,000</text><text x="443.64" y="380.1" text-anchor="middle" font-size="3.72" fill="#000" class="dv t">16,000</text>
<text x="381.8" y="386.6" text-anchor="middle" font-size="4.46" fill="#000" class="dv t">Rank in Ordered Dataset</text>
<text transform="translate(292.6 270.8) rotate(-90)" text-anchor="middle" font-size="5.3" fill="#444" class="dv" textLength="62.5" lengthAdjust="spacing">Enrichment score (ES)</text>
<text transform="translate(295.8 352.7) rotate(-90)" text-anchor="middle" font-size="4.45" fill="#111" class="dv t">Ranked list metric (Signal2Noise)</text>
<rect x="306" y="390.3" width="133.2" height="7.6" fill="#fff" stroke="#3a3a3a" stroke-width="0.8"/>
<path d="M307.6 393.9H312.6" stroke="#4fe81a" stroke-width="0.9"/><text x="314.2" y="395.5" font-size="4.36" fill="#000" class="dv t">Enrichment profile</text>
<path d="M357 393.9H361.2" stroke="#222" stroke-width="0.6"/><text x="363" y="395.5" font-size="4.4" fill="#000" class="dv t">Hits</text>
<path d="M382.5 393.9H387.3" stroke="#c4c4c4" stroke-width="0.8"/><text x="389.2" y="395.5" font-size="4.45" fill="#000" class="dv t">Ranking metric scores</text>
</svg>
</body></html>
